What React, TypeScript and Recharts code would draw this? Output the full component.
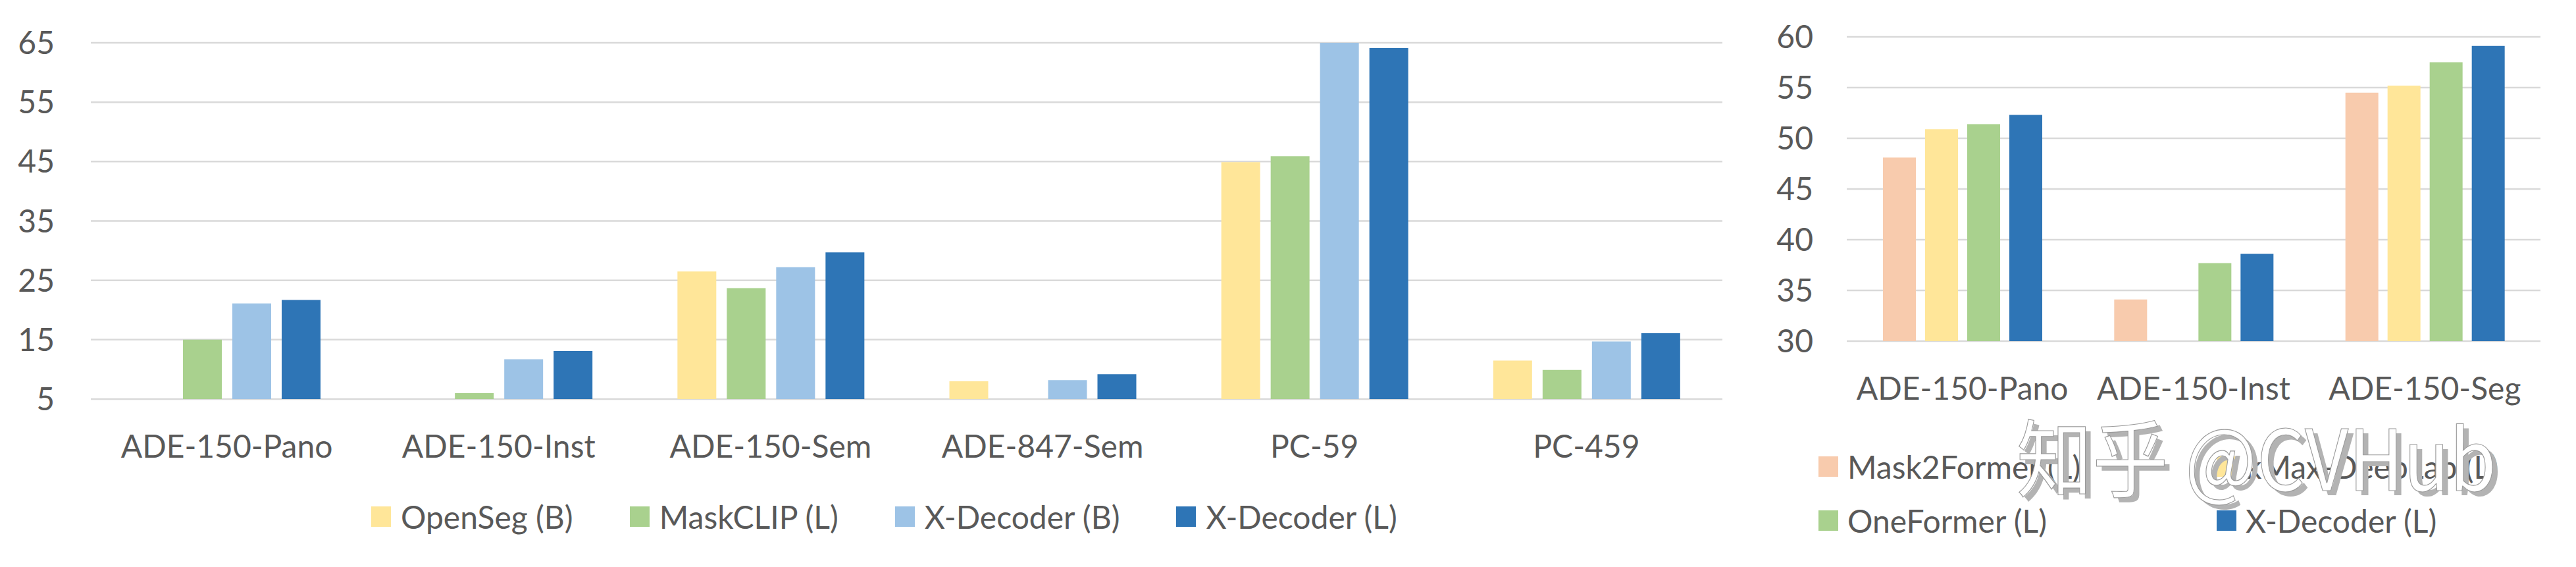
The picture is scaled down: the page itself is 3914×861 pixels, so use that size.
import React from 'react';
import { BarChart, Bar, XAxis, YAxis, CartesianGrid } from 'recharts';

// ---------- Left chart data ----------
const leftCategories = ['ADE-150-Pano', 'ADE-150-Inst', 'ADE-150-Sem', 'ADE-847-Sem', 'PC-59', 'PC-459'];
const openSeg = [null, null, 26.5, 8.0, 44.9, 11.5];
const maskClip = [15.0, 6.0, 23.7, null, 45.9, 9.9];
const xDecoderB = [21.1, 11.7, 27.2, 8.2, 65.0, 14.7];
const xDecoderL = [21.7, 13.1, 29.7, 9.2, 64.1, 16.1];
const leftTicks = [5, 15, 25, 35, 45, 55, 65];

// ---------- Right chart data ----------
const rightCategories = ['ADE-150-Pano', 'ADE-150-Inst', 'ADE-150-Seg'];
const mask2Former = [48.1, 34.1, 54.5];
const kMaxDeepLab = [50.9, null, 55.2];
const oneFormer = [51.4, 37.7, 57.5];
const xDecoderR = [52.3, 38.6, 59.1];
const rightTicks = [30, 35, 40, 45, 50, 55, 60];

const leftSeries = [
  { key: 'openSeg', name: 'OpenSeg (B)', color: '#FFE699', values: openSeg },
  { key: 'maskClip', name: 'MaskCLIP (L)', color: '#A9D18E', values: maskClip },
  { key: 'xDecB', name: 'X-Decoder (B)', color: '#9DC3E6', values: xDecoderB },
  { key: 'xDecL', name: 'X-Decoder (L)', color: '#2E75B6', values: xDecoderL },
];
const rightSeries = [
  { key: 'm2f', name: 'Mask2Former (L)', color: '#F8CBAD', values: mask2Former },
  { key: 'kmax', name: 'kMax-DeepLab (L)', color: '#FFE699', values: kMaxDeepLab },
  { key: 'onef', name: 'OneFormer (L)', color: '#A9D18E', values: oneFormer },
  { key: 'xdec', name: 'X-Decoder (L)', color: '#2E75B6', values: xDecoderR },
];

const leftData = leftCategories.map((c, i) => {
  const row: any = { name: c };
  leftSeries.forEach((s) => (row[s.key] = s.values[i]));
  return row;
});
const rightData = rightCategories.map((c, i) => {
  const row: any = { name: c };
  rightSeries.forEach((s) => (row[s.key] = s.values[i]));
  return row;
});

const TEXT = '#595959';
const GRID = '#D9D9D9';
const FONT = 'Lato, "Open Sans", sans-serif';
const tickStyle = { fontSize: 48, fill: TEXT, fontFamily: FONT };

const LegendItem = ({ color, label, left, top }: any) => (
  <div
    style={{
      position: 'absolute',
      left,
      top: top - 30,
      height: 60,
      display: 'flex',
      alignItems: 'center',
      whiteSpace: 'nowrap',
      fontFamily: FONT,
      fontSize: 48,
      color: TEXT,
    }}
  >
    <span style={{ display: 'inline-block', width: 30, height: 31, background: color, marginRight: 14 }} />
    <span>{label}</span>
  </div>
);

export default function App() {
  return (
    <div style={{ position: 'absolute', left: 0, top: 0, width: 3914, height: 861, background: '#fff', overflow: 'hidden' }}>
      <div style={{ position: 'absolute', left: 0, top: 0 }}>
        <BarChart
          width={2640}
          height={861}
          data={leftData}
          margin={{ top: 65, right: 23, left: 0, bottom: 155 }}
          barSize={59}
          barGap={16}
        >
          <CartesianGrid vertical={false} stroke={GRID} strokeWidth={2.5} />
          <XAxis
            dataKey="name"
            axisLine={false}
            tickLine={false}
            tickSize={0}
            tickMargin={55}
            height={100}
            interval={0}
            tick={tickStyle}
          />
          <YAxis
            domain={[5, 65]}
            ticks={leftTicks}
            allowDataOverflow
            axisLine={false}
            tickLine={false}
            tickSize={0}
            tickMargin={55}
            width={138}
            tick={tickStyle}
          />
          {leftSeries.map((s) => (
            <Bar key={s.key} dataKey={s.key} name={s.name} fill={s.color} isAnimationActive={false} />
          ))}
        </BarChart>
      </div>

      <div style={{ position: 'absolute', left: 2640, top: 0 }}>
        <BarChart
          width={1274}
          height={861}
          data={rightData}
          margin={{ top: 56, right: 54, left: 0, bottom: 243 }}
          barSize={50}
          barGap={14}
        >
          <CartesianGrid vertical={false} stroke={GRID} strokeWidth={2.5} />
          <XAxis
            dataKey="name"
            axisLine={false}
            tickLine={false}
            tickSize={0}
            tickMargin={55}
            height={100}
            interval={0}
            tick={tickStyle}
          />
          <YAxis
            domain={[30, 60]}
            ticks={rightTicks}
            allowDataOverflow
            axisLine={false}
            tickLine={false}
            tickSize={0}
            tickMargin={51}
            width={166}
            tick={tickStyle}
          />
          {rightSeries.map((s) => (
            <Bar key={s.key} dataKey={s.key} name={s.name} fill={s.color} isAnimationActive={false} />
          ))}
        </BarChart>
      </div>

      {/* Left legend */}
      <div style={{ position: 'absolute', left: 564, top: 754, height: 60, display: 'flex', alignItems: 'center', gap: 86, fontFamily: FONT, fontSize: 48, color: TEXT, whiteSpace: 'nowrap' }}>
        {leftSeries.map((s) => (
          <div key={s.key} style={{ display: 'flex', alignItems: 'center' }}>
            <span style={{ display: 'inline-block', width: 30, height: 31, background: s.color, marginRight: 15 }} />
            <span>{s.name}</span>
          </div>
        ))}
      </div>

      {/* Right legend */}
      <LegendItem color={rightSeries[0].color} label={rightSeries[0].name} left={2763} top={708} />
      <LegendItem color={rightSeries[1].color} label={rightSeries[1].name} left={3368} top={708} />
      <LegendItem color={rightSeries[2].color} label={rightSeries[2].name} left={2763} top={790} />
      <LegendItem color={rightSeries[3].color} label={rightSeries[3].name} left={3368} top={790} />

      {/* Watermark */}
      <svg style={{ position: 'absolute', left: 3000, top: 600, pointerEvents: 'none' }} width={900} height={200}>
        <text x={72} y={152} fontFamily='"Noto Sans CJK SC", sans-serif' fontSize={128} fill="#b3b3b3" textLength={729} lengthAdjust="spacingAndGlyphs">
          知乎 @CVHub
        </text>
        <text x={64} y={145} fontFamily='"Noto Sans CJK SC", sans-serif' fontSize={128} fill="#ffffff" stroke="#9a9a9a" strokeWidth={1.2} textLength={729} lengthAdjust="spacingAndGlyphs">
          知乎 @CVHub
        </text>
      </svg>
    </div>
  );
}
